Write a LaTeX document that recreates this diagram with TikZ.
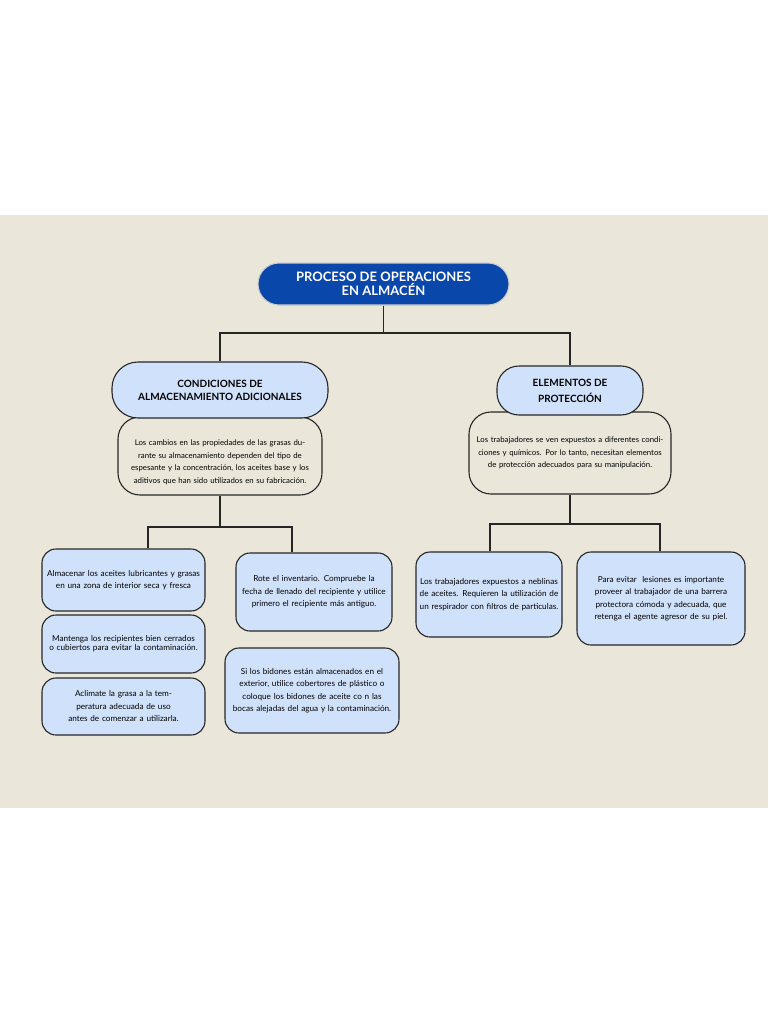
\documentclass[tikz,border=0pt]{standalone}
\usepackage{fontspec}
\setmainfont{Lato}
\definecolor{bg}{HTML}{EAE6DA}
\definecolor{lb}{HTML}{D0E2FB}
\definecolor{tb}{HTML}{0A47AA}
\begin{document}
\begin{tikzpicture}[x=1pt,y=-1pt,
 box/.style={draw=black!85,line width=1.1pt,rounded corners=#1,align=center,inner sep=2pt},
 box/.default=16pt,
 leaf/.style={box=14pt,fill=lb,font=\fontsize{8.2}{12.5}\selectfont},
 ln/.style={line width=1.3pt,draw=black!85}]
\useasboundingbox (0,0) rectangle (768,1024);
\fill[white] (0,0) rectangle (768,1024);
\fill[bg] (0,215) rectangle (768,808);
% title
\node[box=21pt,fill=tb,draw=black!20,text=white,font=\fontsize{13}{14}\selectfont\bfseries,minimum width=251pt,minimum height=42pt] (t) at (383.5,284) {PROCESO DE OPERACIONES\\EN ALMACÉN};
% level 1
\node[box=22pt,fill=bg,minimum width=204pt,minimum height=78pt,font=\fontsize{7.8}{12.5}\selectfont,text width=196pt] (cd) at (220,456) {\\[6pt]Los cambios en las propiedades de las grasas durante su almacenamiento dependen del tipo de espesante y la concentración, los aceites base y los aditivos que han sido utilizados en su fabricación.};
\node[box=26pt,fill=lb,minimum width=216pt,minimum height=56pt,font=\fontsize{10}{13}\selectfont\bfseries] (c) at (220,390) {CONDICIONES DE\\ALMACENAMIENTO ADICIONALES};
\node[box=22pt,fill=bg,minimum width=202pt,minimum height=82pt,font=\fontsize{7.8}{12.5}\selectfont,text width=194pt] (ed) at (570,453) {Los trabajadores se ven expuestos a diferentes condiciones y químicos. Por lo tanto, necesitan elementos de protección adecuados para su manipulación.};
\node[box=22pt,fill=lb,minimum width=146pt,minimum height=49pt,font=\fontsize{10}{16}\selectfont\bfseries] (e) at (570,390.5) {ELEMENTOS DE\\PROTECCIÓN};
% leaves
\node[leaf,minimum width=163pt,minimum height=62pt,text width=158pt] (a) at (123.5,580) {Almacenar los aceites lubricantes y grasas en una zona de interior seca y fresca};
\node[leaf,minimum width=163pt,minimum height=58pt,text width=150pt,font=\fontsize{8.2}{9}\selectfont] (b) at (123.5,644) {Mantenga los recipientes bien cerrados o cubiertos para evitar la contaminación.};
\node[leaf,minimum width=163pt,minimum height=57pt,text width=158pt] (cc) at (123.5,706.5) {Aclimate la grasa a la temperatura adecuada de uso antes de comenzar a utilizarla.};
\node[leaf,minimum width=156pt,minimum height=78pt,text width=146pt] (d) at (314,592) {Rote el inventario. Compruebe la fecha de llenado del recipiente y utilice primero el recipiente más antiguo.};
\node[leaf,minimum width=172pt,minimum height=85pt,text width=170pt] (ee) at (312,690.5) {Si los bidones están almacenados en el exterior, utilice cobertores de plástico o coloque los bidones de aceite co n las bocas alejadas del agua y la contaminación.};
\node[leaf,minimum width=146pt,minimum height=85pt,text width=140pt] (f) at (489,594.5) {Los trabajadores expuestos a neblinas de aceites. Requieren la utilización de un respirador con filtros de particulas.};
\node[leaf,minimum width=168pt,minimum height=93pt,text width=164pt] (g) at (661,598.5) {Para evitar\ \ lesiones es importante proveer al trabajador de una barrera protectora cómoda y adecuada, que retenga el agente agresor de su piel.};
% connectors
\coordinate (j1) at (383.5,333);
\draw[ln] (t.south) -- (j1);
\draw[ln] (c.north) -- (220,333) -- (570,333) -- (e.north);
\coordinate (j2) at (220,527);
\draw[ln] (cd.south) -- (j2);
\draw[ln] (a.north -| 148,0) -- (148,527) -- (292,527) -- (d.north -| 292,0);
\coordinate (j3) at (570,524);
\draw[ln] (ed.south) -- (j3);
\draw[ln] (f.north -| 490,0) -- (490,524) -- (660,524) -- (g.north -| 660,0);
\end{tikzpicture}
\end{document}
